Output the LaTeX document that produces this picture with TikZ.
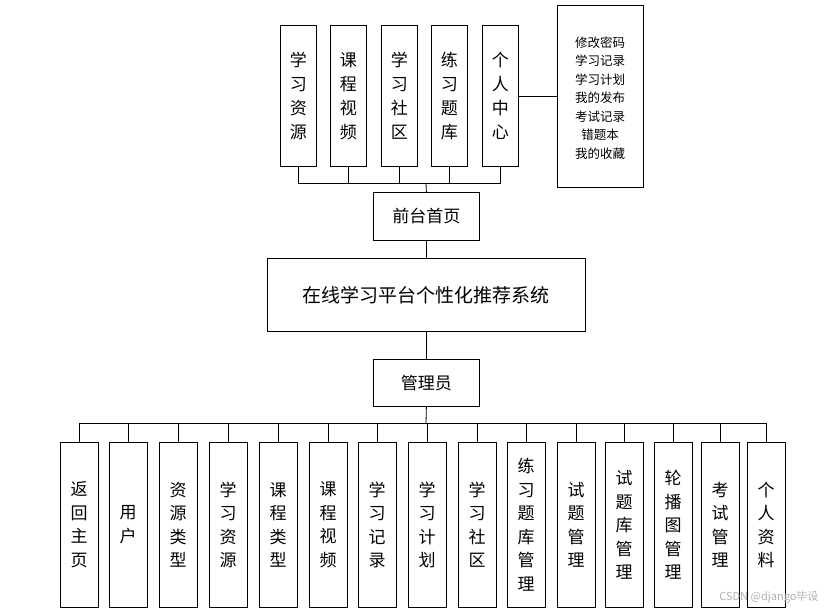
\documentclass[tikz,border=0pt]{standalone}
\usepackage{fontspec}
\setmainfont{Noto Sans CJK SC}
\begin{document}
\begin{tikzpicture}[x=1pt,y=-1pt,
 bx/.style={draw,line width=0.8pt,inner sep=0pt,anchor=north west},
 ln/.style={line width=0.8pt}]
\useasboundingbox (0,0) rectangle (839,614);
% top boxes
\foreach \n/\x/\t in {t1/280/学\\习\\资\\源, t2/330/课\\程\\视\\频, t3/381/学\\习\\社\\区, t4/431/练\\习\\题\\库, t5/482/个\\人\\中\\心}{
  \node[bx,minimum width=36pt,minimum height=141pt] (\n) at (\x,25) {};
  \node[align=center,font=\fontsize{17}{24}\selectfont] at (\n.center) {\t};
}
\node[bx,minimum width=86pt,minimum height=182pt] (rb) at (557,5) {};
\node[align=center,font=\fontsize{12.5}{18.5}\selectfont,anchor=north] at (600,33) {修改密码\\学习记录\\学习计划\\我的发布\\考试记录\\错题本\\我的收藏};
\draw[ln] (t5.east) -- (rb.west |- t5.east);
\node[bx,minimum width=106pt,minimum height=48pt,font=\fontsize{17}{20}\selectfont] (qt) at (373,192) {};
\node[font=\fontsize{17}{20}\selectfont] at (qt.center) {前台首页};
\coordinate (tb) at (426,183);
\draw[ln] (t1.south) -- (t1.south |- tb) -- (t5.south |- tb) -- (t5.south);
\foreach \n in {t2,t3,t4} \draw[ln] (\n.south) -- (\n.south |- tb);
\draw[ln] (tb) -- (qt.north);
\node[bx,minimum width=318pt,minimum height=73pt] (main) at (267,258) {};
\node[font=\fontsize{19}{22}\selectfont] at (main.center) {在线学习平台个性化推荐系统};
\draw[ln] (qt.south) -- (main.north);
\node[bx,minimum width=106pt,minimum height=47pt] (gl) at (373,359) {};
\node[font=\fontsize{17}{20}\selectfont] at (gl.center) {管理员};
\draw[ln] (main.south) -- (gl.north);
\coordinate (bb) at (426,423);
\draw[ln] (gl.south) -- (bb);
\foreach \i/\x/\t in {1/79/返\\回\\主\\页, 2/128/用\\户, 3/178/资\\源\\类\\型, 4/228/学\\习\\资\\源, 5/278/课\\程\\类\\型, 6/328/课\\程\\视\\频, 7/377/学\\习\\记\\录, 8/427/学\\习\\计\\划, 9/477/学\\习\\社\\区, 10/526/练\\习\\题\\库\\管\\理, 11/576/试\\题\\管\\理, 12/624/试\\题\\库\\管\\理, 13/673/轮\\播\\图\\管\\理, 14/720/考\\试\\管\\理, 15/766/个\\人\\资\\料}{
  \node[draw,line width=0.8pt,minimum width=38pt,minimum height=165pt,anchor=north] (b\i) at (\x,442) {};
  \node[align=center,font=\fontsize{17}{23.5}\selectfont] at (b\i.center) {\t};
  \draw[ln] (b\i.north) -- (b\i.north |- bb);
}
\draw[ln] (b1.north |- bb) -- (b15.north |- bb);
\node[text=gray!60,font=\fontsize{11}{13}\selectfont,anchor=east] at (822,597) {CSDN @django毕设};
\end{tikzpicture}
\end{document}
